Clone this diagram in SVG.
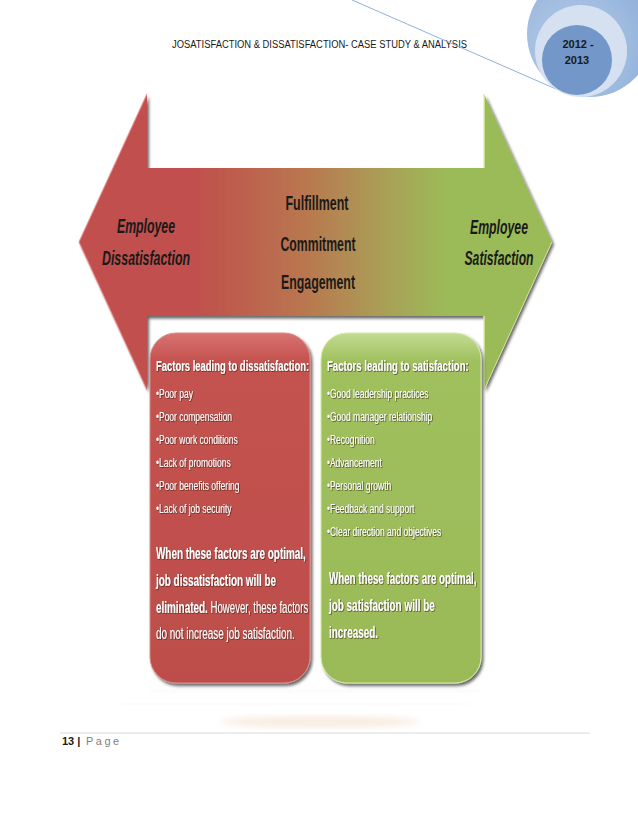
<svg xmlns="http://www.w3.org/2000/svg" width="638" height="826" viewBox="0 0 638 826">
<style>
.hdr{font-family:"Liberation Sans",Arial,sans-serif;font-size:10px;fill:#1a1a1a}
.yr{font-family:"Liberation Sans",Arial,sans-serif;font-size:11px;font-weight:bold;fill:#1a1a1a}
.big{font-family:"Liberation Sans",Arial,sans-serif;font-weight:bold;font-size:20px;fill:#1a1a1a}
.ital{font-family:"Liberation Sans",Arial,sans-serif;font-weight:bold;font-style:italic;font-size:20px;fill:#1a1a1a}
.bh{font-family:"Liberation Sans",Arial,sans-serif;font-weight:bold;font-size:15px;fill:#ffffff}
.bi{font-family:"Liberation Sans",Arial,sans-serif;font-size:12.5px;fill:#ffffff}
.bb{font-family:"Liberation Sans",Arial,sans-serif;font-weight:bold;font-size:16px;fill:#ffffff}
.br{font-family:"Liberation Sans",Arial,sans-serif;font-size:16px;fill:#ffffff}
.foot{font-family:"Liberation Sans",Arial,sans-serif;font-size:11px}
</style>
<defs>
<linearGradient id="arrowGrad" gradientUnits="userSpaceOnUse" x1="79" y1="0" x2="552" y2="0">
<stop offset="0" stop-color="#c0504d"/>
<stop offset="0.25" stop-color="#c0504d"/>
<stop offset="0.48" stop-color="#b9774f"/>
<stop offset="0.66" stop-color="#a8a357"/>
<stop offset="0.78" stop-color="#9bbb59"/>
<stop offset="1" stop-color="#9bbb59"/>
</linearGradient>
<linearGradient id="redBox" x1="0" y1="0" x2="0" y2="1">
<stop offset="0" stop-color="#d87370"/>
<stop offset="0.08" stop-color="#c4524f"/>
<stop offset="1" stop-color="#bd4e4b"/>
</linearGradient>
<linearGradient id="greenBox" x1="0" y1="0" x2="0" y2="1">
<stop offset="0" stop-color="#c3dc92"/>
<stop offset="0.08" stop-color="#a0c05e"/>
<stop offset="1" stop-color="#9aba58"/>
</linearGradient>
<radialGradient id="outerC" cx="0.35" cy="0.6" r="0.7">
<stop offset="0" stop-color="#b9cde8"/>
<stop offset="1" stop-color="#8fb0da"/>
</radialGradient>
<filter id="shadow" x="-10%" y="-10%" width="125%" height="125%">
<feDropShadow dx="2" dy="2.5" stdDeviation="1.6" flood-color="#000" flood-opacity="0.6"/>
</filter>
<filter id="tshadow" x="-5%" y="-20%" width="110%" height="150%">
<feDropShadow dx="0.7" dy="0.7" stdDeviation="0.4" flood-color="#3a1a10" flood-opacity="0.85"/>
</filter>
<filter id="blur"><feGaussianBlur stdDeviation="3"/></filter>
</defs>

<rect x="0" y="0" width="638" height="826" fill="#ffffff"/>

<g id="header">
<text class="hdr" x="172" y="48" textLength="295" lengthAdjust="spacingAndGlyphs">JOSATISFACTION &amp; DISSATISFACTION- CASE STUDY &amp; ANALYSIS</text>
</g>

<g id="badge">
<line x1="352" y1="0" x2="556" y2="89" stroke="#8fb0dc" stroke-width="1"/>
<circle cx="590" cy="34" r="63" fill="url(#outerC)"/>
<circle cx="581" cy="51" r="46" fill="#d5e1f0"/>
<circle cx="577" cy="60" r="35" fill="#7297c8"/>
<text class="yr" x="578" y="48" text-anchor="middle">2012 -</text>
<text class="yr" x="577" y="64" text-anchor="middle">2013</text>
</g>

<g id="arrow">
<path d="M79,242 L147,94 L147,168 L484,168 L484,94 L552,242 L484,390 L484,316 L147,316 L147,390 Z" fill="url(#arrowGrad)" filter="url(#shadow)"/>
<path d="M79,242 L147,94" stroke="#e88a87" stroke-width="1.2" fill="none" opacity="0.8"/>
<path d="M79,242 L147,390" stroke="#e88a87" stroke-width="1.2" fill="none" opacity="0.8"/>
<path d="M484,94 L484,168 M484,316 L484,390" stroke="#e3f0a8" stroke-width="1.5" fill="none" opacity="0.9"/>
<path d="M552,242 L484,390" stroke="#e3f0a8" stroke-width="1" fill="none" opacity="0.8"/>
</g>

<g id="label-dissatisfaction">
<text class="ital" x="146" y="233" text-anchor="middle" textLength="58" lengthAdjust="spacingAndGlyphs">Employee</text>
<text class="ital" x="146" y="265" text-anchor="middle" textLength="88" lengthAdjust="spacingAndGlyphs">Dissatisfaction</text>
</g>

<g id="label-center">
<text class="big" x="317" y="210" text-anchor="middle" textLength="63" lengthAdjust="spacingAndGlyphs">Fulfillment</text>
<text class="big" x="318" y="251" text-anchor="middle" textLength="75" lengthAdjust="spacingAndGlyphs">Commitment</text>
<text class="big" x="318" y="289" text-anchor="middle" textLength="74" lengthAdjust="spacingAndGlyphs">Engagement</text>
</g>

<g id="label-satisfaction">
<text class="ital" x="499" y="234" text-anchor="middle" textLength="58" lengthAdjust="spacingAndGlyphs">Employee</text>
<text class="ital" x="499" y="265" text-anchor="middle" textLength="69" lengthAdjust="spacingAndGlyphs">Satisfaction</text>
</g>

<g id="reflection" opacity="0.5">
<rect x="150" y="690" width="330" height="2" fill="#e6e6e6" filter="url(#blur)"/>
<rect x="120" y="703" width="350" height="2" fill="#ececec" filter="url(#blur)"/>
<ellipse cx="320" cy="722" rx="100" ry="6" fill="#f1dcc4" filter="url(#blur)"/>
</g>

<g id="box-dissatisfaction">
<rect x="150" y="333" width="160" height="350" rx="26" ry="26" fill="url(#redBox)" stroke="#d98c89" stroke-width="1" filter="url(#shadow)"/>
<g filter="url(#tshadow)">
<text class="bh" x="156" y="371" transform="matrix(0.63,0,0,1,57.72,0)">Factors leading to dissatisfaction:</text>
<text class="bi" x="156" y="398" transform="matrix(0.68,0,0,1,49.92,0)">•Poor pay</text>
<text class="bi" x="156" y="421" transform="matrix(0.68,0,0,1,49.92,0)">•Poor compensation</text>
<text class="bi" x="156" y="444" transform="matrix(0.68,0,0,1,49.92,0)">•Poor work conditions</text>
<text class="bi" x="156" y="467" transform="matrix(0.68,0,0,1,49.92,0)">•Lack of promotions</text>
<text class="bi" x="156" y="490" transform="matrix(0.68,0,0,1,49.92,0)">•Poor benefits offering</text>
<text class="bi" x="156" y="513" transform="matrix(0.68,0,0,1,49.92,0)">•Lack of job security</text>
<text class="bb" x="156" y="559" transform="matrix(0.62,0,0,1,59.28,0)">When these factors are optimal,</text>
<text class="bb" x="156" y="586" transform="matrix(0.62,0,0,1,59.28,0)">job dissatisfaction will be</text>
<text class="bb" x="156" y="613" transform="matrix(0.62,0,0,1,59.28,0)">eliminated.</text>
<text class="br" x="210.6" y="613" transform="matrix(0.6,0,0,1,84.24,0)">However, these factors</text>
<text class="br" x="156" y="639" transform="matrix(0.62,0,0,1,59.28,0)">do not increase job satisfaction.</text>
</g>
</g>

<g id="box-satisfaction">
<rect x="321" y="333" width="160" height="350" rx="26" ry="26" fill="url(#greenBox)" stroke="#d7eaa8" stroke-width="1" filter="url(#shadow)"/>
<g filter="url(#tshadow)">
<text class="bh" x="327" y="371" transform="matrix(0.64,0,0,1,117.72,0)">Factors leading to satisfaction:</text>
<text class="bi" x="327" y="398" transform="matrix(0.68,0,0,1,104.64,0)">•Good leadership practices</text>
<text class="bi" x="327" y="421" transform="matrix(0.68,0,0,1,104.64,0)">•Good manager relationship</text>
<text class="bi" x="327" y="444" transform="matrix(0.68,0,0,1,104.64,0)">•Recognition</text>
<text class="bi" x="327" y="467" transform="matrix(0.68,0,0,1,104.64,0)">•Advancement</text>
<text class="bi" x="327" y="490" transform="matrix(0.68,0,0,1,104.64,0)">•Personal growth</text>
<text class="bi" x="327" y="513" transform="matrix(0.68,0,0,1,104.64,0)">•Feedback and support</text>
<text class="bi" x="327" y="536" transform="matrix(0.68,0,0,1,104.64,0)">•Clear direction and objectives</text>
<text class="bb" x="329" y="584" transform="matrix(0.61,0,0,1,128.31,0)">When these factors are optimal,</text>
<text class="bb" x="329" y="611" transform="matrix(0.62,0,0,1,125.02,0)">job satisfaction will be</text>
<text class="bb" x="329" y="638" transform="matrix(0.62,0,0,1,125.02,0)">increased.</text>
</g>
</g>

<g id="footer">
<line x1="60" y1="733" x2="590" y2="733" stroke="#d9d9d9" stroke-width="1"/>
<text class="foot" x="62" y="745"><tspan font-weight="bold" fill="#1a1a1a">13 |</tspan><tspan fill="#7f7f7f" letter-spacing="2.5"> Page</tspan></text>
</g>
</svg>
